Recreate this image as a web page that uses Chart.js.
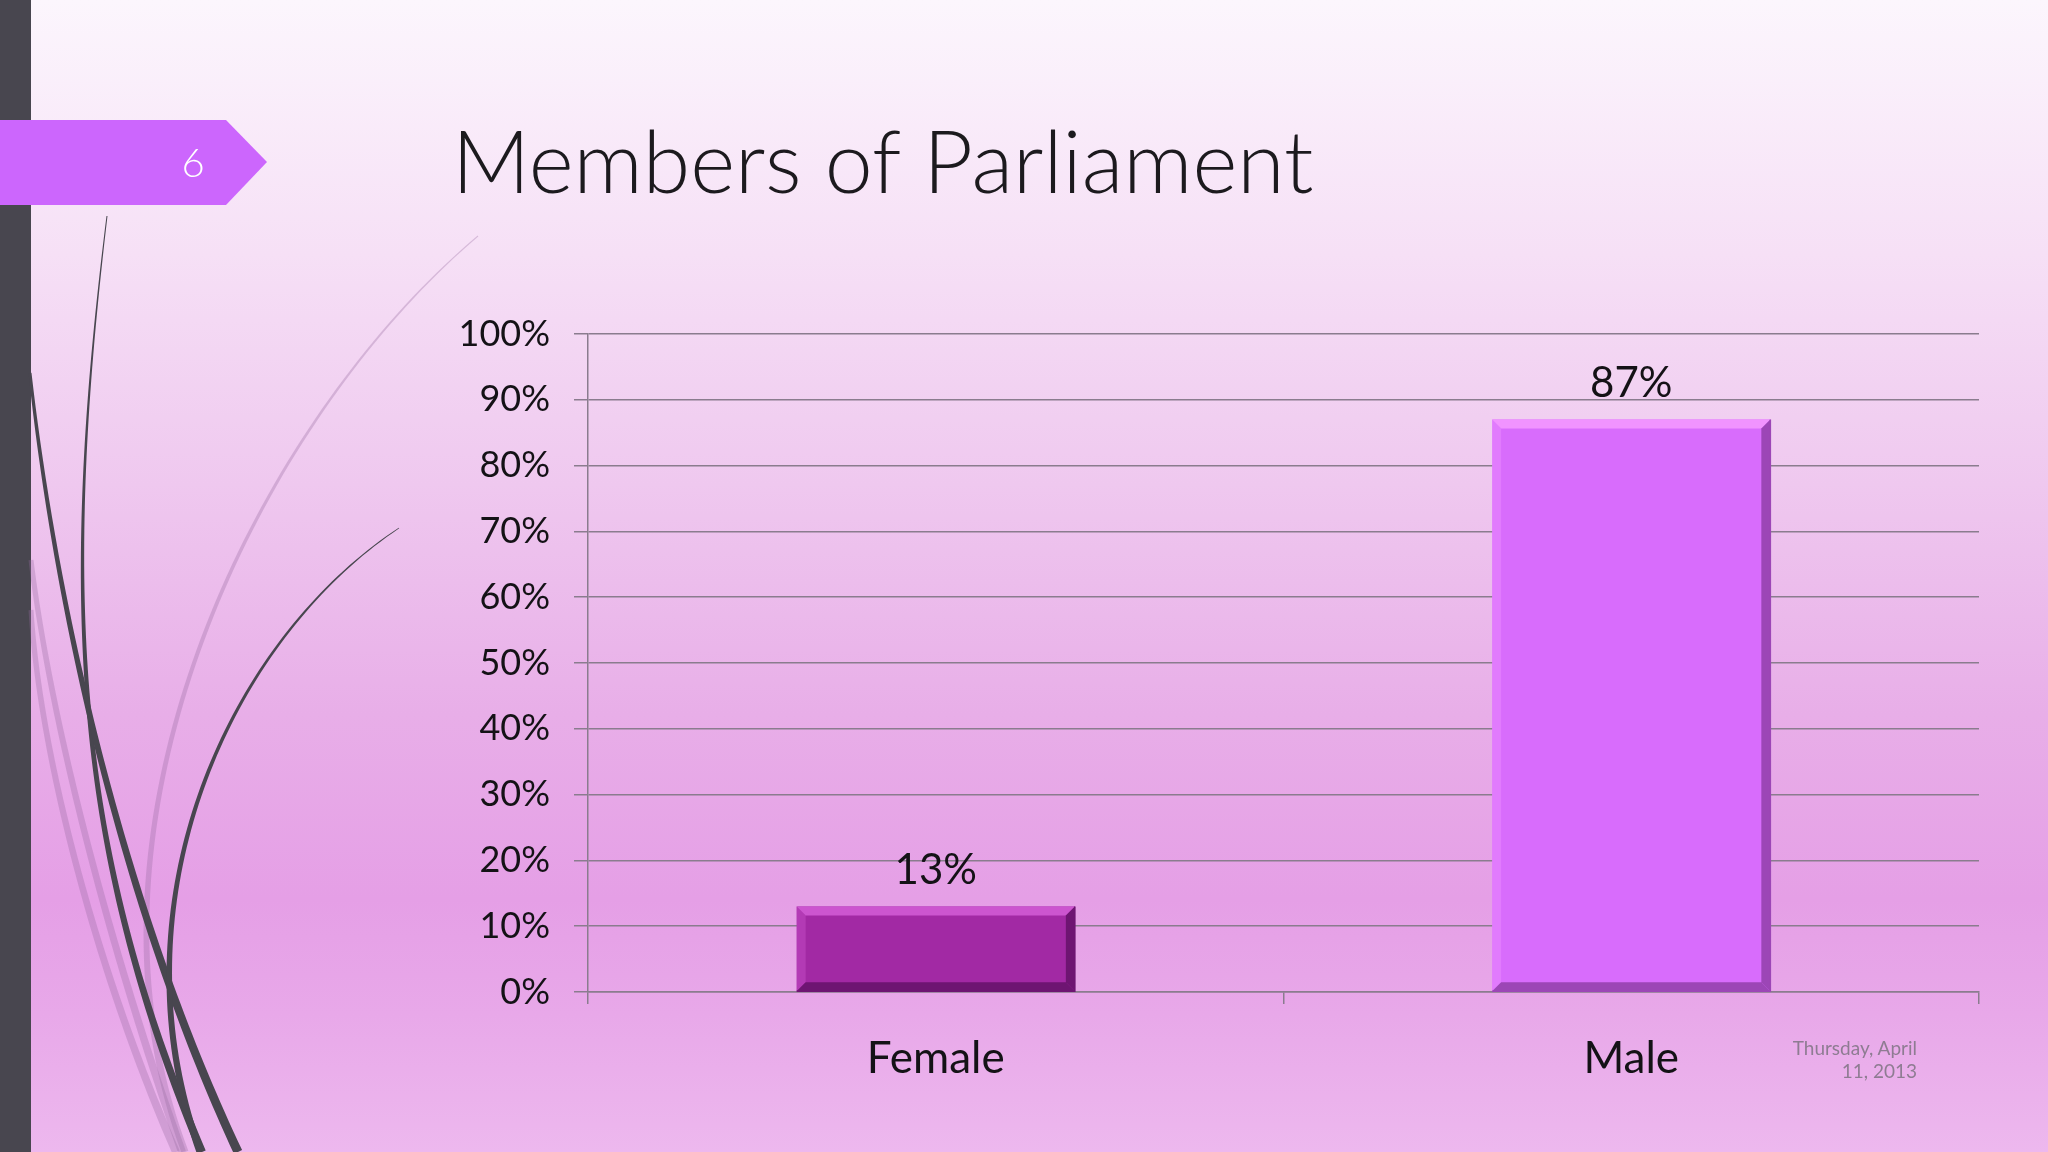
<!DOCTYPE html>
<html>
<head>
<meta charset="utf-8">
<script src="https://cdn.jsdelivr.net/npm/chart.js@4/dist/chart.umd.min.js"></script>
<style>
  html, body { margin: 0; padding: 0; }
  body {
    width: 2048px; height: 1152px; overflow: hidden; position: relative;
    background: linear-gradient(to bottom, #fcf6fd 0%, #f6e0f6 22%, #efc8ef 42%, #e8aee8 62%, #e59fe6 78%, #e8a8e9 88%, #edb8ee 100%);
    font-family: Lato, sans-serif;
  }
  #deco, #chart { position: absolute; left: 0; top: 0; }
  #title {
    position: absolute; left: 452px; top: 117px;
    font-size: 86px; font-weight: 300; color: #1c1a1e; white-space: nowrap; line-height: 1;
  }
  #date {
    position: absolute; right: 131px; top: 1036px; text-align: right;
    font-size: 19px; line-height: 23px; color: #8e7c92;
  }
</style>
</head>
<body>
<canvas id="deco" width="2048" height="1152"></canvas>
<div id="title">Members of Parliament</div>
<canvas id="chart" width="2048" height="1152"></canvas>
<div id="date">Thursday, April<br>11, 2013</div>
<script>
// chart data
var categories = ['Female', 'Male'];
var shares = [13, 87];
var barColors = ['#a229a4', '#d86cfc'];
var bevelLight = ['#cc55cf', '#f193ff'];
var bevelDark = ['#6e1572', '#9c46b6'];
var yStep = 10;

var gridColor = '#8a7c8e';
var fontFam = 'Lato, sans-serif';

// slide decoration: left strip, number badge, swooshes
(function(){
  var c = document.getElementById('deco').getContext('2d');
  c.fillStyle = '#48464f';
  c.fillRect(0, 0, 31, 1152);

  c.fillStyle = '#cc66fd';
  c.beginPath();
  c.moveTo(0, 120); c.lineTo(226, 120); c.lineTo(267, 162); c.lineTo(226, 205); c.lineTo(0, 205);
  c.closePath(); c.fill();
  c.fillStyle = '#ffffff';
  c.font = '300 40px ' + fontFam;
  c.textAlign = 'center'; c.textBaseline = 'middle';
  c.fillText('6', 193, 164);

  // cubic bezier ribbon, width tapering from w0 to w1
  function swoosh(p, w0, w1, color){
    var n = 80, seg = [];
    for (var k = 0; k <= n; k++) {
      var t = k / n, u = 1 - t;
      var a = u*u*u, b = 3*u*u*t, cc = 3*u*t*t, d = t*t*t;
      seg.push([a*p[0][0] + b*p[1][0] + cc*p[2][0] + d*p[3][0],
                a*p[0][1] + b*p[1][1] + cc*p[2][1] + d*p[3][1]]);
    }
    var left = [], right = [];
    for (k = 0; k <= n; k++) {
      var s0 = seg[Math.max(k-1,0)], s1 = seg[Math.min(k+1,n)];
      var dx = s1[0]-s0[0], dy = s1[1]-s0[1], len = Math.sqrt(dx*dx+dy*dy) || 1;
      var hw = (w0 + (w1-w0)*k/n) / 2;
      left.push([seg[k][0] - dy/len*hw, seg[k][1] + dx/len*hw]);
      right.push([seg[k][0] + dy/len*hw, seg[k][1] - dx/len*hw]);
    }
    c.fillStyle = color;
    c.beginPath();
    c.moveTo(left[0][0], left[0][1]);
    for (k = 1; k <= n; k++) c.lineTo(left[k][0], left[k][1]);
    for (k = n; k >= 0; k--) c.lineTo(right[k][0], right[k][1]);
    c.closePath(); c.fill();
  }
  var faint = 'rgba(150,105,160,0.32)';
  var dark = '#48464f';
  swoosh([[478,236],[260,420],[60,820],[185,1152]], 1, 7, faint);
  swoosh([[31,560],[50,720],[110,950],[182,1152]], 5, 8, faint);
  swoosh([[31,610],[40,760],[100,980],[176,1152]], 5, 8, faint);
  swoosh([[107,216],[60,600],[75,850],[202,1152]], 1, 8, dark);
  swoosh([[30,373],[55,600],[120,900],[238,1152]], 3, 9, dark);
  swoosh([[399,528],[230,640],[110,900],[200,1152]], 0.8, 7, dark);
})();

var bevelPlugin = {
  id: 'bevel',
  afterDatasetsDraw: function(chart){
    var ctx = chart.ctx;
    var meta = chart.getDatasetMeta(0);
    meta.data.forEach(function(el, i){
      var l = el.x - el.width/2, r = el.x + el.width/2, t = el.y, b = el.base, d = 9;
      ctx.save();
      ctx.fillStyle = bevelLight[i];
      ctx.beginPath(); ctx.moveTo(l,t); ctx.lineTo(r,t); ctx.lineTo(r-d,t+d); ctx.lineTo(l+d,t+d); ctx.closePath(); ctx.fill();
      ctx.globalAlpha = 0.4;
      ctx.beginPath(); ctx.moveTo(l,t); ctx.lineTo(l+d,t+d); ctx.lineTo(l+d,b-d); ctx.lineTo(l,b); ctx.closePath(); ctx.fill();
      ctx.globalAlpha = 1;
      ctx.fillStyle = bevelDark[i];
      ctx.beginPath(); ctx.moveTo(r,t); ctx.lineTo(r,b); ctx.lineTo(r-d,b-d); ctx.lineTo(r-d,t+d); ctx.closePath(); ctx.fill();
      ctx.beginPath(); ctx.moveTo(l,b); ctx.lineTo(r,b); ctx.lineTo(r-d,b-d); ctx.lineTo(l+d,b-d); ctx.closePath(); ctx.fill();
      ctx.strokeStyle = bevelDark[i]; ctx.lineWidth = 1.5;
      ctx.beginPath(); ctx.moveTo(r, t); ctx.lineTo(r, b); ctx.lineTo(l, b); ctx.stroke();
      // value label
      ctx.fillStyle = '#141216';
      ctx.font = '42px ' + fontFam;
      ctx.textAlign = 'center'; ctx.textBaseline = 'middle';
      ctx.fillText(shares[i] + '%', el.x, t - 36);
      ctx.restore();
    });
  }
};

new Chart(document.getElementById('chart'), {
  type: 'bar',
  data: {
    labels: categories,
    datasets: [{
      data: shares,
      backgroundColor: barColors,
      borderWidth: 0,
      barPercentage: 0.4,
      categoryPercentage: 1
    }]
  },
  options: {
    responsive: false,
    animation: false,
    layout: { padding: { top: 334, right: 69, bottom: 0, left: 0 } },
    plugins: { legend: { display: false }, tooltip: { enabled: false } },
    scales: {
      x: {
        offset: true,
        grid: { offset: true, drawOnChartArea: false, drawTicks: true, tickLength: 12, color: gridColor, lineWidth: 1.5 },
        border: { display: true, color: gridColor, width: 1.5 },
        ticks: { color: '#141216', padding: 28, font: { family: fontFam, size: 44 } },
        afterFit: function(s){ s.height = 160; }
      },
      y: {
        min: 0, max: 100,
        grid: { color: gridColor, lineWidth: 1.5, tickLength: 14 },
        border: { display: true, color: gridColor, width: 1.5 },
        ticks: {
          stepSize: yStep, color: '#141216', padding: 24,
          font: { family: fontFam, size: 36 },
          callback: function(v){ return v + '%'; }
        },
        afterFit: function(s){ s.width = 588; }
      }
    }
  },
  plugins: [bevelPlugin]
});
</script>
</body>
</html>
